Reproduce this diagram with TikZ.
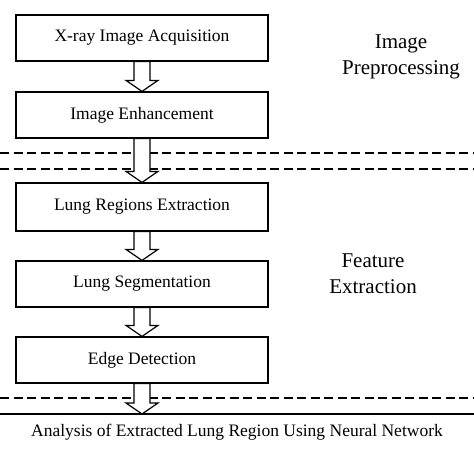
\documentclass[tikz,border=0pt]{standalone}
\usepackage{fontspec}
\setmainfont{Liberation Serif}
\usetikzlibrary{calc}
\tikzset{
  stepbox/.style={draw, line width=1.2pt, fill=white, minimum width=252, minimum height=46, inner sep=0pt,
    font=\fontsize{17.5}{20}\selectfont},
  phaselabel/.style={align=center, font=\fontsize{21}{26}\selectfont},
  dashline/.style={line width=1.4pt, dash pattern=on 9pt off 4.5pt},
  arrowshape/.style={draw, line width=1.2pt, fill=white, line join=miter},
}
\newcommand\flowarrow[2]{%
  \path[arrowshape] ($#1+(-8,0)$) -- ($#2+(-8,-11)$) -- ($#2+(-16,-11)$) -- #2
    -- ($#2+(16,-11)$) -- ($#2+(8,-11)$) -- ($#1+(8,0)$) -- cycle;}
\begin{document}
\begin{tikzpicture}[x=1pt,y=-1pt]
\useasboundingbox (0,0) rectangle (474,461);
\fill[white] (0,0) rectangle (474,461);
% separators
\coordinate (d1l) at (0,153); \coordinate (d1r) at (474,153);
\coordinate (d2l) at (0,169); \coordinate (d2r) at (474,169);
\coordinate (d3l) at (0,398); \coordinate (d3r) at (474,398);
\coordinate (bl) at (0,414); \coordinate (br) at (474,414);
\draw[dashline] (d1l) -- (d1r);
\draw[dashline] (d2l) -- (d2r);
\draw[dashline] (d3l) -- (d3r);
\draw[line width=1.2pt] (bl) -- (br);
\coordinate (bline) at (142,414);
% boxes
\node[stepbox] (acq) at (142,38) {X-ray Image Acquisition};
\node[stepbox] (enh) at (142,115) {Image Enhancement};
\node[stepbox, minimum height=48] (lre) at (142,207) {Lung Regions Extraction};
\node[stepbox] (seg) at (142,284) {Lung Segmentation};
\node[stepbox] (edge) at (142,360) {Edge Detection};
% labels
\node[phaselabel] (pre) at (401,57) {Image\\Preprocessing};
\node[phaselabel] (feat) at (373,274) {Feature\\Extraction};
\node[font=\fontsize{17.5}{20}\selectfont] (ana) at (237,432) {Analysis of Extracted Lung Region Using Neural Network};
% arrows
\flowarrow{(acq.south)}{(enh.north)}
\flowarrow{(enh.south)}{(lre.north)}
\flowarrow{(lre.south)}{(seg.north)}
\flowarrow{(seg.south)}{(edge.north)}
\flowarrow{(edge.south)}{(bline)}
\end{tikzpicture}
\end{document}
